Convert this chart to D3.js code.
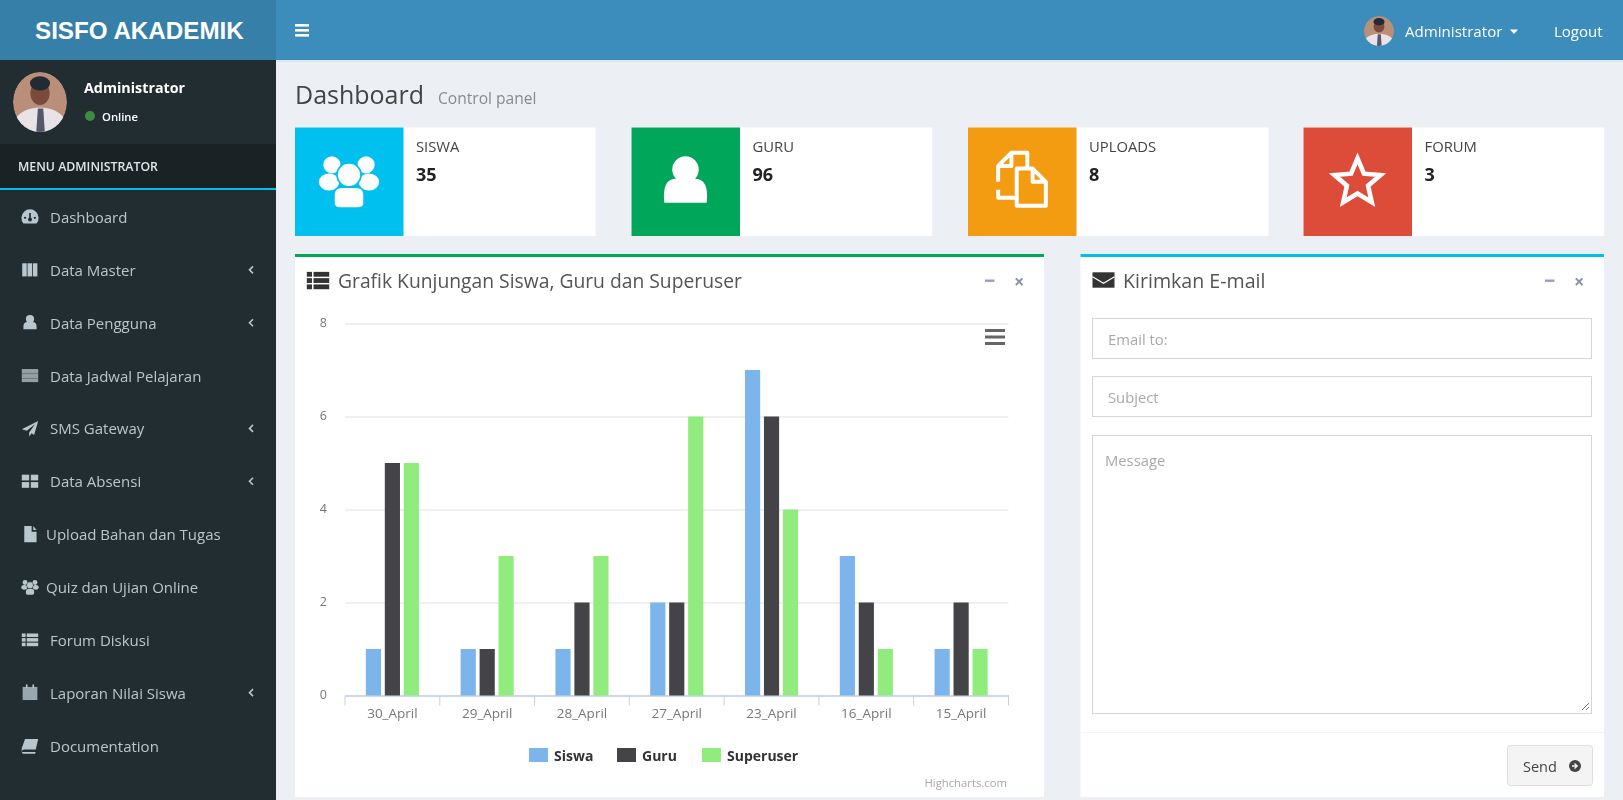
<!DOCTYPE html>
<html>
<head>
<meta charset="utf-8">
<title>Sisfo Akademik</title>
<script src="https://cdnjs.cloudflare.com/ajax/libs/d3/7.8.5/d3.min.js"></script>
<style>
html, body { margin: 0; padding: 0; background: #ecf0f5; overflow: hidden; }
svg { display: block; filter: blur(0.45px); }
text { font-family: "Open Sans", sans-serif; }
</style>
</head>
<body>
<div id="page"></div>
<script>
//chart data
var categories = ["30_April", "29_April", "28_April", "27_April", "23_April", "16_April", "15_April"];
var seriesNames = ["Siswa", "Guru", "Superuser"];
var siswaValues = [1, 1, 1, 2, 7, 3, 1];
var guruValues = [5, 1, 2, 2, 6, 2, 2];
var superuserValues = [5, 3, 3, 6, 4, 1, 1];
var seriesColors = ["#7cb5ec", "#434348", "#90ed7d"];
var yTicks = [0, 2, 4, 6, 8];

//dashboard content
var menuLabels = ["Dashboard", "Data Master", "Data Pengguna", "Data Jadwal Pelajaran", "SMS Gateway", "Data Absensi", "Upload Bahan dan Tugas", "Quiz dan Ujian Online", "Forum Diskusi", "Laporan Nilai Siswa", "Documentation"];
var menuIcons = ["dashboard", "columns", "user", "table", "send", "large", "file", "users", "list", "calendar", "book"];
var menuArrows = [false, true, true, false, true, true, false, false, false, true, false];
var boxLabels = ["SISWA", "GURU", "UPLOADS", "FORUM"];
var boxValues = ["35", "96", "8", "3"];
var boxColors = ["#00c0ef", "#00a65a", "#f39c12", "#dd4b39"];
var boxIcons = ["users", "user", "files", "star"];
var boxLeft = [295, 631.5, 968, 1303.5];
var boxIconScale = [2.85, 2.65, 2.65, 2.3];
var boxIconY = [53, 54, 49, 54];

var width = 1623;
var height = 800;
var sidebarWidth = 276;
var headerHeight = 60;

var svg = d3.select("#page").append("svg")
    .attr("width", width)
    .attr("height", height);

function rect(parent, x, y, w, h, fill) {
    return parent.append("rect")
        .attr("x", x).attr("y", y)
        .attr("width", w).attr("height", h)
        .attr("fill", fill);
}

function label(parent, x, y, str, size, fill, weight) {
    return parent.append("text")
        .attr("x", x).attr("y", y)
        .attr("dominant-baseline", "central")
        .attr("font-size", size)
        .attr("font-weight", weight || 400)
        .attr("fill", fill)
        .text(str);
}

//icons are drawn in a box of about 20x20 around the origin
function drawIcon(parent, name, x, y, scale, color, bgColor) {
    var g = parent.append("g")
        .attr("transform", "translate(" + x + "," + y + ") scale(" + scale + ")")
        .attr("fill", color);
    switch (name) {
    case "dashboard":
        g.append("path").attr("d", "M-8,8 A10.5,10.5 0 1 1 8,8 Z");
        g.append("circle").attr("r", 2.4).attr("cy", 3).attr("fill", bgColor);
        g.append("path").attr("d", "M-1,-5 L1,-5 L1,2 L-1,2 Z").attr("fill", bgColor);
        g.append("circle").attr("r", 1.4).attr("cx", -6).attr("cy", 1).attr("fill", bgColor);
        g.append("circle").attr("r", 1.4).attr("cx", 6).attr("cy", 1).attr("fill", bgColor);
        break;
    case "columns":
        [-9.5, -3, 3.5].forEach(function (d) { rect(g, d, -8, 5.5, 16, color); });
        break;
    case "user":
        g.append("circle").attr("cy", -4.5).attr("r", 5);
        g.append("path").attr("d", "M-8,8 Q-9,-1 -3.5,-1 L3.5,-1 Q9,-1 8,8 Z");
        break;
    case "table":
        g.append("path").attr("d", "M-10,-8 H10 V8 H-10 Z").attr("opacity", 0.75);
        [-3, 3].forEach(function (d) { rect(g, -10, d, 20, 0.8, bgColor).attr("opacity", 0.5); });
        break;
    case "send":
        g.append("path").attr("d", "M10,-9 L-10,1 L-4,3 L6,-5 L-1,5 L-1,10 L2,6 L5,8 Z");
        break;
    case "large":
        [-10, 1].forEach(function (a) {
            [-8, 1].forEach(function (b) { rect(g, a, b, 9, 7, color); });
        });
        break;
    case "file":
        g.append("path").attr("d", "M-7,-10 H2 V-3 H8 V10 H-7 Z");
        g.append("path").attr("d", "M4,-10 L8,-5 H4 Z");
        break;
    case "users":
        g.append("circle").attr("cx", -6).attr("cy", -5.5).attr("r", 3);
        g.append("circle").attr("cx", 6).attr("cy", -5.5).attr("r", 3);
        g.append("ellipse").attr("cx", -7).attr("cy", 0.5).attr("rx", 3.6).attr("ry", 3);
        g.append("ellipse").attr("cx", 7).attr("cy", 0.5).attr("rx", 3.6).attr("ry", 3);
        g.append("circle").attr("cy", -2).attr("r", 4.2).attr("stroke", bgColor).attr("stroke-width", 0.6);
        g.append("path").attr("d", "M-5,8 V5 Q-5,2.6 -2.5,2.6 H2.5 Q5,2.6 5,5 V8 Q5,9.4 3,9.4 H-3 Q-5,9.4 -5,8 Z");
        break;
    case "list":
        [-7.7, -2.1, 3.5].forEach(function (d) {
            rect(g, -10, d, 4.6, 4.3, color);
            rect(g, -4, d, 14, 4.3, color);
        });
        break;
    case "calendar":
        rect(g, -9, -7, 18, 16, color).attr("opacity", 0.8);
        rect(g, -5, -10, 2, 4, color);
        rect(g, 3, -10, 2, 4, color);
        break;
    case "book":
        g.append("path").attr("d", "M-6,-8 H10 L7,5 H-7 Q-10,5 -10,8 H7 L6,10 H-9 Q-11,8 -10,3 Z");
        break;
    case "files":
        g.attr("fill", "none").attr("stroke", color).attr("stroke-width", 1.5).attr("stroke-linejoin", "round");
        g.append("path").attr("d", "M-9,2 L-9,-4 L-4,-9 L2,-9 L2,-3 M-9,5 L-9,8 L-2,8 M-4,-9 L-4,-4 L-9,-4");
        g.append("path").attr("d", "M-2,-3 L4,-3 L9,2 L9,11 L-2,11 Z M4,-3 L4,2 L9,2");
        break;
    case "star":
        g.attr("fill", "none").attr("stroke", color).attr("stroke-width", 2).attr("stroke-linejoin", "miter");
        g.append("path").attr("d", "M0,-10 L2.8,-3.4 L10,-2.8 L4.6,1.8 L6.2,9 L0,5.2 L-6.2,9 L-4.6,1.8 L-10,-2.8 L-2.8,-3.4 Z");
        break;
    case "envelope":
        rect(g, -10, -7, 20, 14, color);
        g.append("path").attr("d", "M-10,-3 L0,3 L10,-3").attr("fill", "none").attr("stroke", bgColor).attr("stroke-width", 1.1);
        break;
    }
    return g;
}

//small portrait used in the user panel and the top bar
var defs = svg.append("defs");

function drawAvatar(parent, id, cx, cy, rx, ry) {
    defs.append("clipPath").attr("id", id)
        .append("ellipse").attr("cx", cx).attr("cy", cy).attr("rx", rx).attr("ry", ry);
    var g = parent.append("g").attr("clip-path", "url(#" + id + ")");
    g.append("ellipse").attr("cx", cx).attr("cy", cy).attr("rx", rx).attr("ry", ry).attr("fill", "#b98f79");
    g.append("ellipse").attr("cx", cx).attr("cy", cy + ry * 0.9).attr("rx", rx * 1.05).attr("ry", ry * 0.72).attr("fill", "#e9e3e8");
    g.append("ellipse").attr("cx", cx).attr("cy", cy - ry * 0.3).attr("rx", rx * 0.36).attr("ry", ry * 0.4).attr("fill", "#7a4a3a");
    g.append("ellipse").attr("cx", cx).attr("cy", cy - ry * 0.62).attr("rx", rx * 0.37).attr("ry", ry * 0.24).attr("fill", "#222a35");
    g.append("path")
        .attr("d", "M" + (cx - rx * 0.08) + "," + (cy + ry * 0.22) + "h" + (rx * 0.2) + "l" + (rx * 0.06) + "," + (ry * 0.8) + "h" + (-rx * 0.32) + "z")
        .attr("fill", "#55586a");
}

//top bar and sidebar
rect(svg, 0, 0, width, headerHeight, "#3c8dbc");
rect(svg, 0, 0, sidebarWidth, headerHeight, "#367fa9");
rect(svg, sidebarWidth, headerHeight, width - sidebarWidth, 2, "#dfe6ee");
label(svg, 35, 30, "SISFO AKADEMIK", 24.2, "#fff", 700).style("font-family", "'Liberation Sans', sans-serif");

var burger = svg.append("g");
[24, 29, 34].forEach(function (d) { rect(burger, 295, d, 14, 2.6, "#fff"); });

drawAvatar(svg, "navAvatar", 1379, 31, 15, 15);
label(svg, 1405, 31, "Administrator", 15.1, "#fff");
svg.append("path").attr("d", "M1510,29.5 h8 l-4,4.5 z").attr("fill", "#fff");
label(svg, 1554, 31, "Logout", 15, "#fff");

rect(svg, 0, headerHeight, sidebarWidth, height - headerHeight, "#222d32");
drawAvatar(svg, "panelAvatar", 40, 102, 27, 30);
label(svg, 84, 87.5, "Administrator", 14.3, "#fff", 700);
svg.append("circle").attr("cx", 90).attr("cy", 116).attr("r", 5).attr("fill", "#3c8d3f");
label(svg, 102, 116.5, "Online", 11.3, "#fff", 600);
rect(svg, 0, 144, sidebarWidth, 44, "#1a2226");
rect(svg, 0, 188, sidebarWidth, 2, "#00c0ef");
label(svg, 18, 166, "MENU ADMINISTRATOR", 12.3, "#dfe6ea", 600);

var menuY = d3.scalePoint()
    .domain(menuLabels)
    .range([217, 745.5]);

var menu = svg.append("g").selectAll("g")
    .data(menuLabels)
    .enter()
    .append("g")
    .attr("transform", function (d) { return "translate(0," + menuY(d) + ")"; });

menu.each(function (d, i) {
    var item = d3.select(this);
    var isWide = menuIcons[i] === "file" || menuIcons[i] === "users";
    drawIcon(item, menuIcons[i], 30, 0, 0.82, "#b8c7ce", "#222d32");
    label(item, isWide ? 46 : 50, 0, d, 15, "#b8c7ce");
    if (menuArrows[i]) {
        item.append("path")
            .attr("d", "M253,-3.5 L249.5,0 L253,3.5")
            .attr("fill", "none")
            .attr("stroke", "#b8c7ce")
            .attr("stroke-width", 1.6);
    }
});

//page title
label(svg, 295, 94, "Dashboard", 25, "#444");
label(svg, 438, 98, "Control panel", 15.6, "#8a8a8a");

//info boxes
var boxes = svg.append("g").selectAll("g")
    .data(boxLabels)
    .enter()
    .append("g")
    .attr("transform", function (d, i) { return "translate(" + boxLeft[i] + ",127.5)"; });

rect(boxes, 0, 0, 300.5, 108.5, "#fff");
boxes.each(function (d, i) {
    var box = d3.select(this);
    rect(box, 0, 0, 108.5, 108.5, boxColors[i]);
    drawIcon(box, boxIcons[i], 54, boxIconY[i], boxIconScale[i], "#fff", boxColors[i]);
    label(box, 121, 18.5, d, 14.8, "#444");
    label(box, 121, 46, boxValues[i], 18, "#222", 700);
});

//chart panel
rect(svg, 295, 255, 749, 542, "#fff");
rect(svg, 295, 254, 749, 3, "#00a65a");
drawIcon(svg, "list", 318, 280.5, 1.12, "#333", "#fff");
label(svg, 338, 280, "Grafik Kunjungan Siswa, Guru dan Superuser", 19.3, "#555");
rect(svg, 985, 279.5, 9.5, 2.4, "#97a0b3");
label(svg, 1014, 280.5, "×", 18, "#8a93a6", 700);

var chartLeft = 345;
var chartRight = 1008.5;
var chartTop = 323.5;
var chartBottom = 695.5;

var xScale = d3.scaleBand()
    .domain(categories)
    .range([chartLeft, chartRight]);

var groupScale = d3.scaleBand()
    .domain(seriesNames)
    .range([xScale.bandwidth() * 0.2, xScale.bandwidth() * 0.8])
    .paddingInner(0.2)
    .paddingOuter(0.1);

var yScale = d3.scaleLinear()
    .domain([0, 8])
    .range([chartBottom, chartTop]);

var yAxis = svg.append("g")
    .attr("transform", "translate(" + chartLeft + ",0)")
    .call(d3.axisLeft(yScale).tickValues(yTicks).tickSize(-(chartRight - chartLeft)).tickPadding(18));

yAxis.select(".domain").remove();
yAxis.selectAll("line").attr("stroke", "#e9ebee").attr("stroke-width", 1.6);
yAxis.selectAll("text")
    .attr("fill", "#777")
    .attr("font-size", 12.5)
    .attr("dy", "0.2em")
    .style("font-family", "'Open Sans', sans-serif");

var xAxis = svg.append("g")
    .attr("transform", "translate(0," + chartBottom + ")")
    .call(d3.axisBottom(xScale).tickSize(0).tickPadding(13));

xAxis.select(".domain").attr("stroke", "#c0d0e0").attr("stroke-width", 1.4);
xAxis.selectAll("text")
    .attr("fill", "#777")
    .attr("font-size", 13.5)
    .style("font-family", "'Open Sans', sans-serif");

//tick marks sit between the categories
svg.append("g").selectAll("line")
    .data(categories.concat(["end"]))
    .enter()
    .append("line")
    .attr("x1", function (d, i) { return chartLeft + i * xScale.step(); })
    .attr("x2", function (d, i) { return chartLeft + i * xScale.step(); })
    .attr("y1", chartBottom)
    .attr("y2", chartBottom + 10)
    .attr("stroke", "#c0d0e0");

var seriesValues = [siswaValues, guruValues, superuserValues];

seriesNames.forEach(function (name, s) {
    svg.append("g").selectAll("rect")
        .data(seriesValues[s])
        .enter()
        .append("rect")
        .attr("x", function (d, i) { return xScale(categories[i]) + groupScale(name); })
        .attr("y", function (d) { return yScale(d); })
        .attr("width", groupScale.bandwidth())
        .attr("height", function (d) { return yScale(0) - yScale(d); })
        .attr("fill", seriesColors[s]);
});

//legend
var legendX = [529, 617, 702];
var legend = svg.append("g").selectAll("g")
    .data(seriesNames)
    .enter()
    .append("g")
    .attr("transform", function (d, i) { return "translate(" + legendX[i] + ",0)"; });

legend.append("rect")
    .attr("y", 748)
    .attr("width", 19)
    .attr("height", 14)
    .attr("fill", function (d, i) { return seriesColors[i]; });

legend.append("text")
    .attr("x", 25)
    .attr("y", 755.5)
    .attr("dominant-baseline", "central")
    .attr("font-size", 14)
    .attr("font-weight", 700)
    .attr("fill", "#333")
    .text(function (d) { return d; });

[329, 335.5, 342].forEach(function (d) { rect(svg, 985, d, 20, 3, "#666"); });

label(svg, 1007, 782, "Highcharts.com", 11.3, "#a8a8a8").attr("text-anchor", "end");

//mail panel
rect(svg, 1080.5, 255, 523.5, 542, "#fff");
rect(svg, 1080.5, 254, 523.5, 3, "#00c0ef");
drawIcon(svg, "envelope", 1103.5, 280, 1.1, "#333", "#fff");
label(svg, 1123, 280, "Kirimkan E-mail", 19.6, "#555");
rect(svg, 1545, 279.5, 9.5, 2.4, "#97a0b3");
label(svg, 1574, 280.5, "×", 18, "#8a93a6", 700);

var fieldLabels = ["Email to:", "Subject", "Message"];
var fieldY = [318, 376, 435];
var fieldHeight = [40, 40, 278];

fieldLabels.forEach(function (d, i) {
    svg.append("rect")
        .attr("x", 1092.5).attr("y", fieldY[i] + 0.5)
        .attr("width", 499).attr("height", fieldHeight[i])
        .attr("fill", "#fff")
        .attr("stroke", "#d2d6de");
    label(svg, i === 2 ? 1105 : 1108, i === 2 ? 460 : fieldY[i] + 20.5, d, 14.8, "#a9a9a9");
});

svg.append("path")
    .attr("d", "M1589,703 L1582,710 M1589,707 L1586,710")
    .attr("stroke", "#777")
    .attr("fill", "none");

rect(svg, 1080.5, 732, 523.5, 1, "#f4f4f4");
svg.append("rect")
    .attr("x", 1507.5).attr("y", 745.5)
    .attr("width", 85).attr("height", 40)
    .attr("rx", 3)
    .attr("fill", "#f4f4f4")
    .attr("stroke", "#ddd");
label(svg, 1523, 766, "Send", 14.5, "#444");
svg.append("circle").attr("cx", 1575).attr("cy", 766).attr("r", 6).attr("fill", "#444");
svg.append("path").attr("d", "M1572,766 h5 m-2.5,-2.5 l2.7,2.5 l-2.7,2.5").attr("stroke", "#f4f4f4").attr("stroke-width", 1.4).attr("fill", "none");
</script>
</body>
</html>
